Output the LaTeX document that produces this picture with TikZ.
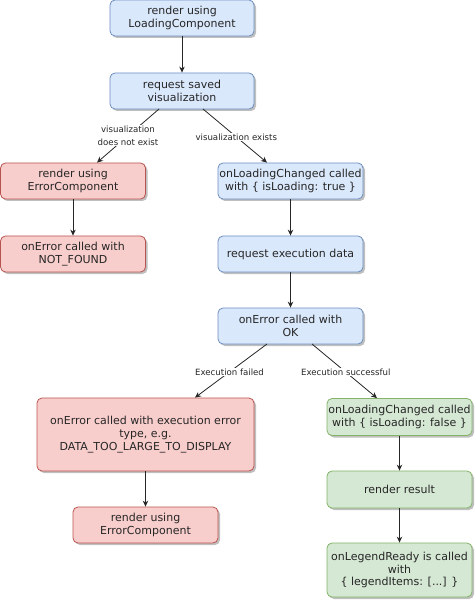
\documentclass[tikz,border=0pt]{standalone}
\usepackage{fontspec}
\setmainfont{DejaVu Sans}
\usetikzlibrary{arrows.meta,shadows}
\definecolor{bfill}{HTML}{DAE8FC}\definecolor{bline}{HTML}{6C8EBF}
\definecolor{rfill}{HTML}{F8CECC}\definecolor{rline}{HTML}{B85450}
\definecolor{gfill}{HTML}{D5E8D4}\definecolor{gline}{HTML}{82B366}
\tikzset{
  box/.style={rounded corners=5pt, line width=0.8pt, align=center, inner sep=1pt,
    font=\fontsize{11}{12.7}\selectfont, text=black!85,
    drop shadow={shadow xshift=2pt, shadow yshift=-2pt, opacity=0.25, fill=black}},
  bbox/.style={box, fill=bfill, draw=bline},
  rbox/.style={box, fill=rfill, draw=rline},
  gbox/.style={box, fill=gfill, draw=gline},
  conn/.style={line width=0.8pt, draw=black!85, -{Stealth[length=6pt,width=5.5pt]}},
  lbl/.style={fill=white, inner sep=1pt, align=center, font=\fontsize{8.6}{12.5}\selectfont, text=black!85},
}
\begin{document}
\begin{tikzpicture}[x=1pt,y=-1pt]
\useasboundingbox (0,0) rectangle (474,601);
\node[bbox, minimum width=144pt, minimum height=36pt] (n1) at (182,18) {render using\\LoadingComponent};
\node[bbox, minimum width=144pt, minimum height=36pt] (n2) at (182,91) {request saved\\visualization};
\node[rbox, minimum width=145pt, minimum height=36pt] (n3) at (73,181) {render using\\ErrorComponent};
\node[rbox, minimum width=145pt, minimum height=36pt] (n4) at (73,254) {onError called with\\NOT\_FOUND};
\node[bbox, minimum width=145pt, minimum height=36pt] (n5) at (290.5,181) {onLoadingChanged called\\with \{ isLoading: true \}};
\node[bbox, minimum width=145pt, minimum height=36pt] (n6) at (290.5,254) {request execution data};
\node[bbox, minimum width=145pt, minimum height=36pt] (n7) at (290.5,326) {onError called with\\OK};
\node[rbox, minimum width=217pt, minimum height=73pt] (n8) at (145.5,434.5) {onError called with execution error\\type, e.g.\\DATA\_TOO\_LARGE\_TO\_DISPLAY};
\node[rbox, minimum width=145pt, minimum height=36pt] (n9) at (145.5,525) {render using\\ErrorComponent};
\node[gbox, minimum width=145pt, minimum height=37pt] (n10) at (399.5,417) {onLoadingChanged called\\with \{ isLoading: false \}};
\node[gbox, minimum width=145pt, minimum height=37pt] (n11) at (399.5,489.5) {render result};
\node[gbox, minimum width=145pt, minimum height=54pt] (n12) at (399.5,570) {onLegendReady is called\\with\\\{ legendItems: [...] \}};

\draw[conn] (n1) -- (n2);
\draw[conn] (n3) -- (n4);
\draw[conn] (n5) -- (n6);
\draw[conn] (n6) -- (n7);
\draw[conn] (n8) -- (n9);
\draw[conn] (n10) -- (n11);
\draw[conn] (n11) -- (n12);

\coordinate (a1) at (159,109);
\coordinate (a2) at (203,109);
\coordinate (b1) at (267,344);
\coordinate (b2) at (312,344);
\draw[conn] (a1) -- node[lbl, pos=0.5] {visualization\\does not exist} (n3.north -| 97,0);
\draw[conn] (a2) -- node[lbl, pos=0.52] {visualization exists} (n5.north -| 267,0);
\draw[conn] (b1) -- node[lbl, pos=0.52] {Execution failed} (n8.north -| 195,0);
\draw[conn] (b2) -- node[lbl, pos=0.52] {Execution successful} (n10.north -| 377,0);
\end{tikzpicture}
\end{document}
